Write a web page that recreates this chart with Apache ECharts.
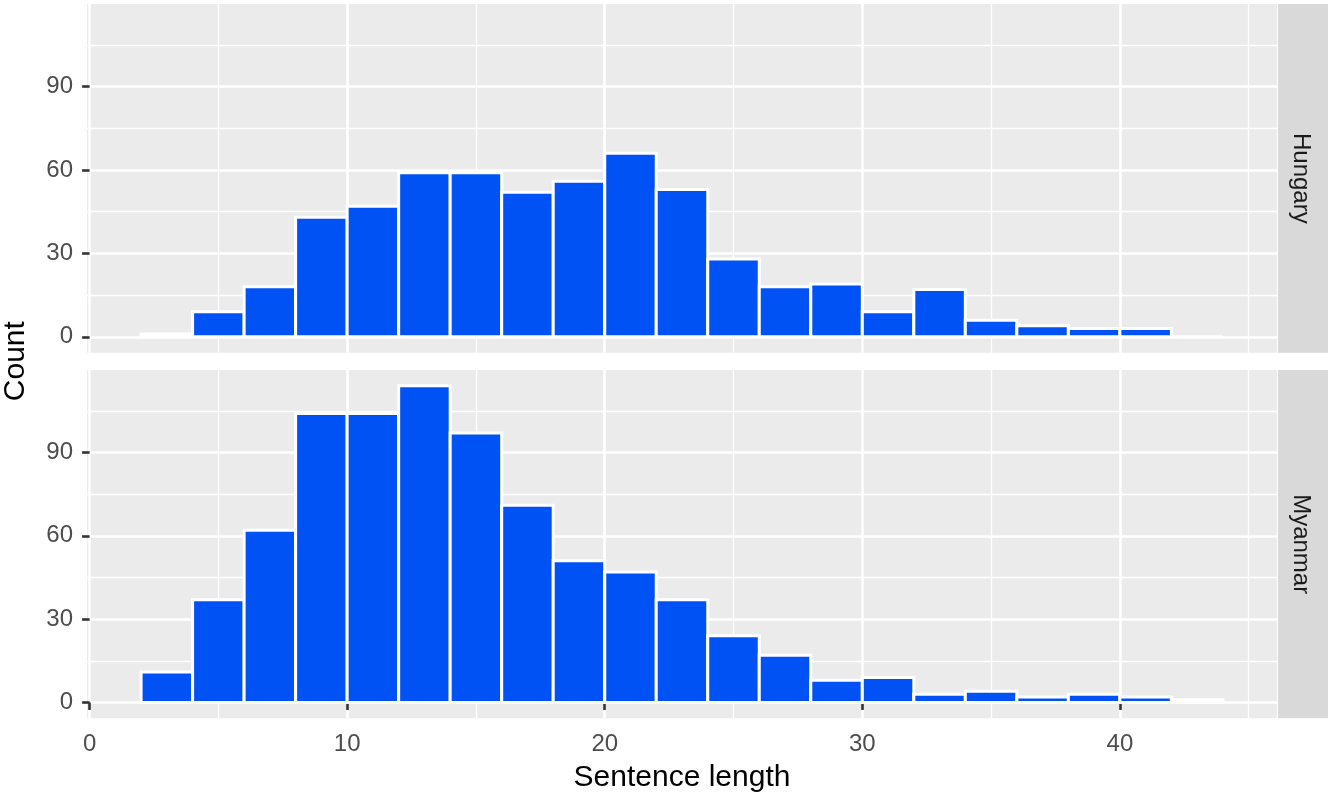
<!DOCTYPE html>
<html>
<head>
<meta charset="utf-8">
<script src="https://cdn.jsdelivr.net/npm/echarts@6/dist/echarts.min.js"></script>
<style>
html,body{margin:0;padding:0;background:#ffffff;}
#chart{width:1328px;height:800px;}
</style>
</head>
<body>
<div id="chart"></div>
<script>
// ---- data ----
var binStarts = [2,4,6,8,10,12,14,16,18,20,22,24,26,28,30,32,34,36,38,40,42];
var binWidth = 2;
var hungary = [1,9,18,43,47,59,59,52,56,66,53,28,18,19,9,17,6,4,3,3,0];
var myanmar = [11,37,62,104,104,114,97,71,51,47,37,24,17,8,9,3,4,2,3,2,1];
var facetLabels = ['Hungary','Myanmar'];
var xTicks = [0,10,20,30,40];
var xMinorTicks = [5,15,25,35,45];
var yTicks = [0,30,60,90];
var yMinorTicks = [15,45,75,105];
var xTitle = 'Sentence length';
var yTitle = 'Count';

// ---- styling ----
var FONT = '"Liberation Sans", Arial, Helvetica, sans-serif';
var BAR = '#0052F5';
var PANEL_BG = '#EBEBEB';
var STRIP_BG = '#D9D9D9';
var XMIN = -0.1, XMAX = 46.1, YMIN = -5.7, YMAX = 119.7;
var panels = [
  {top: 4, height: 348.7},
  {top: 370, height: 348.3}
];
var LEFT = 87, RIGHT = 51;

var chart = echarts.init(document.getElementById('chart'), null, {renderer: 'canvas'});

function toBins(counts) {
  var out = [];
  for (var i = 0; i < binStarts.length; i++) {
    if (counts[i] == null) continue;
    out.push([binStarts[i], binStarts[i] + binWidth, counts[i]]);
  }
  return out;
}

var grids = [], xAxes = [], yAxes = [], series = [], graphics = [];
var countsByPanel = [hungary, myanmar];

panels.forEach(function (p, k) {
  grids.push({left: LEFT, right: RIGHT, top: p.top, height: p.height,
    show: true, backgroundColor: PANEL_BG, borderWidth: 0});
  var isBottom = (k === panels.length - 1);
  // major x
  xAxes.push({
    gridIndex: k, type: 'value', min: XMIN, max: XMAX,
    axisLine: {show: false},
    axisTick: {show: isBottom, customValues: xTicks, length: 7.5, lineStyle: {color: '#333333', width: 2.6}},
    axisLabel: {show: isBottom, customValues: xTicks, color: '#4D4D4D', fontSize: 24, fontFamily: FONT, margin: 14},
    splitLine: {show: true, lineStyle: {color: '#FFFFFF', width: 2.6}},
    name: isBottom ? xTitle : '',
    nameLocation: 'middle', nameGap: 59,
    nameTextStyle: {color: '#000000', fontSize: 30, fontFamily: FONT, verticalAlign: 'middle'}
  });
  // minor x
  xAxes.push({
    gridIndex: k, type: 'value', min: XMIN, max: XMAX,
    axisLine: {show: false},
    axisTick: {show: false, customValues: xMinorTicks},
    axisLabel: {show: false, customValues: xMinorTicks},
    splitLine: {show: true, lineStyle: {color: '#FFFFFF', width: 1.3}}
  });
  // major y
  yAxes.push({
    gridIndex: k, type: 'value', min: YMIN, max: YMAX,
    axisLine: {show: false},
    axisTick: {show: true, customValues: yTicks, length: 7.5, lineStyle: {color: '#333333', width: 2.6}},
    axisLabel: {show: true, customValues: yTicks, color: '#4D4D4D', fontSize: 24, fontFamily: FONT, margin: 14},
    splitLine: {show: true, lineStyle: {color: '#FFFFFF', width: 2.6}}
  });
  // minor y
  yAxes.push({
    gridIndex: k, type: 'value', min: YMIN, max: YMAX,
    axisLine: {show: false},
    axisTick: {show: false, customValues: yMinorTicks},
    axisLabel: {show: false, customValues: yMinorTicks},
    splitLine: {show: true, lineStyle: {color: '#FFFFFF', width: 1.3}}
  });

  series.push({
    type: 'custom',
    name: facetLabels[k],
    xAxisIndex: 2 * k, yAxisIndex: 2 * k,
    encode: {x: [0, 1], y: 2},
    data: toBins(countsByPanel[k]),
    z: 5,
    renderItem: function (params, api) {
      var x0 = api.value(0), x1 = api.value(1), c = api.value(2);
      var pTop = api.coord([x0, c]);
      var pBot = api.coord([x1, 0]);
      return {
        type: 'rect',
        shape: {x: pTop[0], y: pTop[1], width: pBot[0] - pTop[0], height: pBot[1] - pTop[1]},
        style: {fill: BAR, stroke: '#FFFFFF', lineWidth: 3}
      };
    }
  });

  // facet strip on the right
  graphics.push({
    type: 'rect', left: 1278, top: p.top, silent: true,
    shape: {width: 50, height: p.height},
    style: {fill: STRIP_BG}
  });
  graphics.push({
    type: 'text', x: 1301, y: p.top + p.height / 2, rotation: -Math.PI / 2, silent: true,
    style: {text: facetLabels[k], fill: '#1A1A1A', fontSize: 24, fontFamily: FONT,
      align: 'center', verticalAlign: 'middle'}
  });
});

graphics.push({
  type: 'text', x: 16, y: (panels[0].top + panels[1].top + panels[1].height) / 2,
  rotation: Math.PI / 2, silent: true,
  style: {text: yTitle, fill: '#000000', fontSize: 30, fontFamily: FONT,
    align: 'center', verticalAlign: 'middle'}
});

chart.setOption({
  animation: false,
  backgroundColor: '#FFFFFF',
  textStyle: {fontFamily: FONT},
  grid: grids,
  xAxis: xAxes,
  yAxis: yAxes,
  series: series,
  graphic: graphics
});
</script>
</body>
</html>
